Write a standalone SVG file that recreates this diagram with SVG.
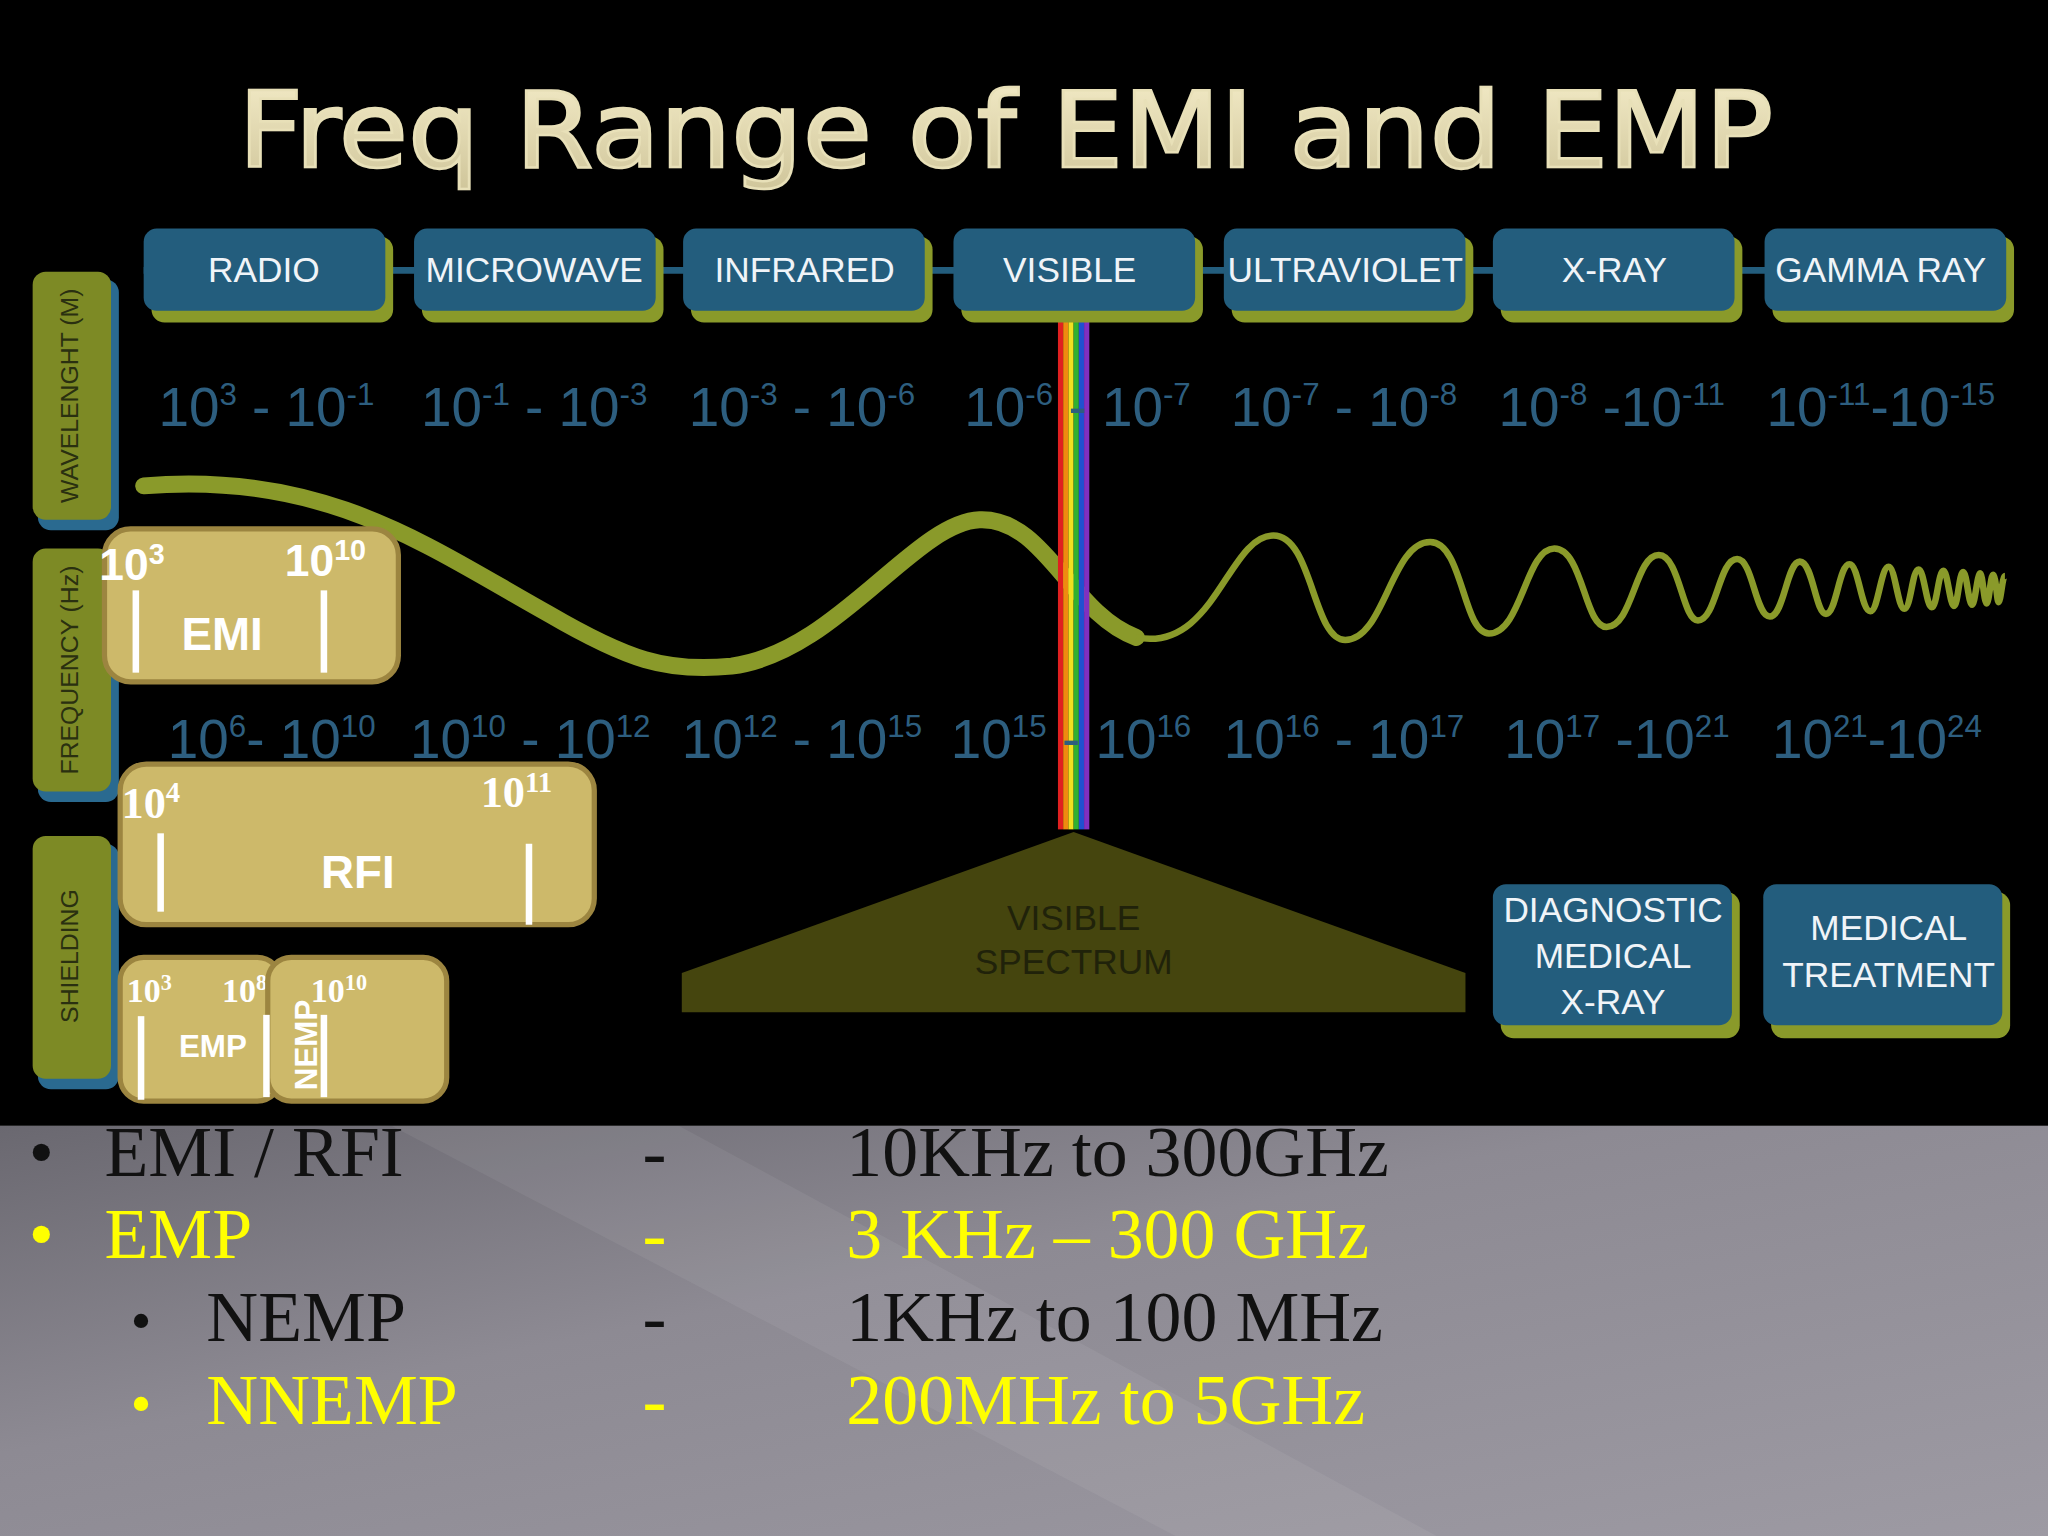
<svg xmlns="http://www.w3.org/2000/svg" width="2048" height="1536" viewBox="0 0 2048 1536">
<defs>
<linearGradient id="bg" x1="0" y1="0" x2="1" y2="1"><stop offset="0" stop-color="#6a6870"/><stop offset="0.4" stop-color="#8d8a93"/><stop offset="1" stop-color="#9d9aa3"/></linearGradient>
<linearGradient id="tt" x1="0" y1="0" x2="0" y2="1"><stop offset="0" stop-color="#f4ecc8"/><stop offset="1" stop-color="#cfc59a"/></linearGradient>
<style>
.bb{fill:#235d7d}.bs{fill:#8a9a2a}
.bt{font-family:"Liberation Sans",Arial,sans-serif;font-size:27px;fill:#f0f4f8;text-anchor:middle}
.num{font-family:"Liberation Sans",Arial,sans-serif;font-size:42px;fill:#2d5e7f;text-anchor:middle}
.tab{fill:#7d8a25}.tabs{fill:#2a6a90}
.tabt{font-family:"Liberation Sans",Arial,sans-serif;font-size:19px;fill:#2a3010;text-anchor:middle}
.tan{fill:#cdb96a;stroke:#9c8540;stroke-width:4}
.wt{font-family:"Liberation Sans",Arial,sans-serif;font-weight:bold;fill:#fff}
.ws{font-family:"Liberation Serif","Times New Roman",serif;font-weight:bold;fill:#fff}
.tk{stroke:#fff;stroke-width:5}
.bl{font-family:"Liberation Serif","Times New Roman",serif;font-size:55px}
</style>
</defs>
<g transform="scale(1.306122)">
<rect x="0" y="0" width="1568" height="862" fill="#000"/>
<rect x="0" y="862" width="1568" height="314" fill="url(#bg)"/>
<polygon points="300,862 520,862 1100,1176 900,1176" fill="#fff" opacity="0.06"/>
<text x="770" y="128" font-family="DejaVu Sans,Verdana,sans-serif" font-size="80" fill="url(#tt)" stroke="#e8e0b8" stroke-width="2" text-anchor="middle" textLength="1175" lengthAdjust="spacingAndGlyphs">Freq Range of EMI and EMP</text>

<g id="connectors">
<line x1="110" y1="207" x2="1536" y2="207" stroke="#235d7d" stroke-width="5"/>
<path d="M110,372 C250,360 330,420 420,470 C480,505 510,515 560,510 C640,500 700,400 750,398 C800,396 820,470 870,488" fill="none" stroke="#8a9a2a" stroke-width="13" stroke-linecap="round"/>
<path d="M870,488 C930,500 940,410 975,410 C1005,410 1005,490 1030,490 C1060,490 1065,415 1095,415 C1120,415 1120,485 1140,485 C1165,485 1168,420 1190,420 C1212,420 1213,480 1230,480 C1250,480 1252,425 1270,425 C1286,425 1288,475 1300,475 C1314,475 1316,428 1330,428 C1342,428 1344,472 1355,472 C1366,472 1368,430 1378,430 C1388,430 1390,470 1398,470 C1406,470 1408,432 1416,432 C1423,432 1425,468 1432,468 C1438,468 1440,434 1446,434 C1451,434 1453,466 1458,466 C1463,466 1464,436 1469,436 C1473,436 1475,465 1479,465 C1483,465 1484,437 1488,437 C1491,437 1493,464 1496,464 C1499,464 1500,438 1503,438 C1506,438 1507,463 1510,463 C1512,463 1514,439 1516,439 C1518,439 1519,462 1521,462 C1523,462 1524,440 1526,440 C1528,440 1529,461 1530,461 C1532,461 1533,441 1535,441" fill="none" stroke="#8a9a2a" stroke-width="5"/>
</g>

<g id="rainbow">
<rect x="810" y="240" width="4" height="395" fill="#e02020"/><rect x="814" y="240" width="4" height="395" fill="#f08a10"/><rect x="818" y="240" width="4" height="395" fill="#f0e020"/><rect x="822" y="240" width="4" height="395" fill="#30b030"/><rect x="826" y="240" width="4" height="395" fill="#2050d0"/><rect x="830" y="240" width="4" height="395" fill="#8030c0"/>
</g>

<g id="top-boxes">
<g id="radio"><rect class="bs" x="116" y="181" width="185" height="66" rx="10"/><rect class="bb" x="110" y="175" width="185" height="63" rx="10"/><text class="bt" x="202" y="216">RADIO</text></g>
<g id="microwave"><rect class="bs" x="323" y="181" width="185" height="66" rx="10"/><rect class="bb" x="317" y="175" width="185" height="63" rx="10"/><text class="bt" x="409" y="216">MICROWAVE</text></g>
<g id="infrared"><rect class="bs" x="529" y="181" width="185" height="66" rx="10"/><rect class="bb" x="523" y="175" width="185" height="63" rx="10"/><text class="bt" x="616" y="216">INFRARED</text></g>
<g id="visible"><rect class="bs" x="736" y="181" width="185" height="66" rx="10"/><rect class="bb" x="730" y="175" width="185" height="63" rx="10"/><text class="bt" x="819" y="216">VISIBLE</text></g>
<g id="ultraviolet"><rect class="bs" x="943" y="181" width="185" height="66" rx="10"/><rect class="bb" x="937" y="175" width="185" height="63" rx="10"/><text class="bt" x="1030" y="216">ULTRAVIOLET</text></g>
<g id="xray"><rect class="bs" x="1149" y="181" width="185" height="66" rx="10"/><rect class="bb" x="1143" y="175" width="185" height="63" rx="10"/><text class="bt" x="1236" y="216">X-RAY</text></g>
<g id="gamma"><rect class="bs" x="1357" y="181" width="185" height="66" rx="10"/><rect class="bb" x="1351" y="175" width="185" height="63" rx="10"/><text class="bt" x="1440" y="216">GAMMA RAY</text></g>
</g>

<g id="wavelengths">
<text class="num" x="204" y="326">10<tspan font-size="24" dy="-16">3</tspan><tspan dy="16"> - 10</tspan><tspan font-size="24" dy="-16">-1</tspan></text>
<text class="num" x="409" y="326">10<tspan font-size="24" dy="-16">-1</tspan><tspan dy="16"> - 10</tspan><tspan font-size="24" dy="-16">-3</tspan></text>
<text class="num" x="614" y="326">10<tspan font-size="24" dy="-16">-3</tspan><tspan dy="16"> - 10</tspan><tspan font-size="24" dy="-16">-6</tspan></text>
<text class="num" x="825" y="326">10<tspan font-size="24" dy="-16">-6</tspan><tspan dy="16"> - 10</tspan><tspan font-size="24" dy="-16">-7</tspan></text>
<text class="num" x="1029" y="326">10<tspan font-size="24" dy="-16">-7</tspan><tspan dy="16"> - 10</tspan><tspan font-size="24" dy="-16">-8</tspan></text>
<text class="num" x="1234" y="326">10<tspan font-size="24" dy="-16">-8</tspan><tspan dy="16"> -10</tspan><tspan font-size="24" dy="-16">-11</tspan></text>
<text class="num" x="1440" y="326">10<tspan font-size="24" dy="-16">-11</tspan><tspan dy="16">-10</tspan><tspan font-size="24" dy="-16">-15</tspan></text>
</g>
<g id="frequencies">
<text class="num" x="208" y="580">10<tspan font-size="24" dy="-16">6</tspan><tspan dy="16">- 10</tspan><tspan font-size="24" dy="-16">10</tspan></text>
<text class="num" x="406" y="580">10<tspan font-size="24" dy="-16">10</tspan><tspan dy="16"> - 10</tspan><tspan font-size="24" dy="-16">12</tspan></text>
<text class="num" x="614" y="580">10<tspan font-size="24" dy="-16">12</tspan><tspan dy="16"> - 10</tspan><tspan font-size="24" dy="-16">15</tspan></text>
<text class="num" x="820" y="580">10<tspan font-size="24" dy="-16">15</tspan><tspan dy="16"> - 10</tspan><tspan font-size="24" dy="-16">16</tspan></text>
<text class="num" x="1029" y="580">10<tspan font-size="24" dy="-16">16</tspan><tspan dy="16"> - 10</tspan><tspan font-size="24" dy="-16">17</tspan></text>
<text class="num" x="1238" y="580">10<tspan font-size="24" dy="-16">17</tspan><tspan dy="16"> -10</tspan><tspan font-size="24" dy="-16">21</tspan></text>
<text class="num" x="1437" y="580">10<tspan font-size="24" dy="-16">21</tspan><tspan dy="16">-10</tspan><tspan font-size="24" dy="-16">24</tspan></text>
</g>

<g id="tabs">
<g id="tab-wavelength"><rect class="tabs" x="29" y="214" width="62" height="192" rx="10"/><rect class="tab" x="25" y="208" width="60" height="190" rx="10"/><text class="tabt" transform="translate(60,303) rotate(-90)">WAVELENGHT (M)</text></g>
<g id="tab-frequency"><rect class="tabs" x="29" y="426" width="62" height="188" rx="10"/><rect class="tab" x="25" y="420" width="60" height="186" rx="10"/><text class="tabt" transform="translate(60,513) rotate(-90)">FREQUENCY (Hz)</text></g>
<g id="tab-shielding"><rect class="tabs" x="29" y="646" width="62" height="188" rx="10"/><rect class="tab" x="25" y="640" width="60" height="186" rx="10"/><text class="tabt" transform="translate(60,732) rotate(-90)">SHIELDING</text></g>
</g>

<g id="visible-spectrum">
<polygon points="522,745 822,637 1122,745 1122,775 522,775" fill="#45450e"/>
<text x="822" y="712" font-family="Liberation Sans,Arial,sans-serif" font-size="27" fill="#20220a" text-anchor="middle">VISIBLE</text>
<text x="822" y="746" font-family="Liberation Sans,Arial,sans-serif" font-size="27" fill="#20220a" text-anchor="middle">SPECTRUM</text>
</g>

<g id="diagnostic"><rect class="bs" x="1149" y="683" width="183" height="112" rx="10"/><rect class="bb" x="1143" y="677" width="183" height="108" rx="10"/><text class="bt" x="1235" y="706">DIAGNOSTIC</text><text class="bt" x="1235" y="741">MEDICAL</text><text class="bt" x="1235" y="776">X-RAY</text></g>
<g id="treatment"><rect class="bs" x="1356" y="683" width="183" height="112" rx="10"/><rect class="bb" x="1350" y="677" width="183" height="108" rx="10"/><text class="bt" x="1446" y="720">MEDICAL</text><text class="bt" x="1446" y="756">TREATMENT</text></g>

<g id="emi"><rect class="tan" x="80" y="405" width="225" height="117" rx="20"/>
<text class="wt" x="76" y="444" font-size="34">10<tspan font-size="22" dy="-12">3</tspan></text>
<text class="wt" x="218" y="441" font-size="34">10<tspan font-size="22" dy="-12">10</tspan></text>
<line class="tk" x1="104" y1="452" x2="104" y2="515"/><line class="tk" x1="248" y1="452" x2="248" y2="515"/>
<text class="wt" x="170" y="498" font-size="35" text-anchor="middle">EMI</text></g>

<g id="rfi"><rect class="tan" x="92" y="585" width="363" height="123" rx="20"/>
<text class="ws" x="93" y="626" font-size="34">10<tspan font-size="22" dy="-12">4</tspan></text>
<text class="ws" x="368" y="618" font-size="34">10<tspan font-size="22" dy="-12">11</tspan></text>
<line class="tk" x1="123" y1="638" x2="123" y2="698"/><line class="tk" x1="405" y1="646" x2="405" y2="708"/>
<text class="wt" x="274" y="680" font-size="35" text-anchor="middle">RFI</text></g>

<g id="emp"><rect class="tan" x="92" y="733" width="123" height="110" rx="18"/>
<text class="ws" x="97" y="767" font-size="26">10<tspan font-size="17" dy="-9">3</tspan></text>
<text class="ws" x="170" y="767" font-size="26">10<tspan font-size="17" dy="-9">8</tspan></text>
<line class="tk" x1="108" y1="778" x2="108" y2="842"/>
<text class="wt" x="163" y="809" font-size="24" text-anchor="middle">EMP</text></g>
<g id="nemp"><rect class="tan" x="205" y="733" width="137" height="110" rx="18"/>
<text class="ws" x="238" y="767" font-size="26">10<tspan font-size="17" dy="-9">10</tspan></text>
<line class="tk" x1="204" y1="777" x2="204" y2="840"/><line class="tk" x1="248" y1="777" x2="248" y2="840"/>
<text class="wt" transform="translate(243,800) rotate(-90)" font-size="24" text-anchor="middle">NEMP</text></g>

<g id="bullets" class="bl">
<text x="22" y="900" fill="#111">•</text><text x="80" y="900" fill="#111">EMI / RFI</text><text x="492" y="900" fill="#111">-</text><text x="648" y="900" fill="#111">10KHz to 300GHz</text>
<text x="22" y="963" fill="#ffff00">•</text><text x="80" y="963" fill="#ffff00">EMP</text><text x="492" y="963" fill="#ffff00">-</text><text x="648" y="963" fill="#ffff00">3 KHz – 300 GHz</text>
<text x="100" y="1027" fill="#111" font-size="46">•</text><text x="158" y="1027" fill="#111">NEMP</text><text x="492" y="1027" fill="#111">-</text><text x="648" y="1027" fill="#111">1KHz to 100 MHz</text>
<text x="100" y="1090" fill="#ffff00" font-size="46">•</text><text x="158" y="1090" fill="#ffff00">NNEMP</text><text x="492" y="1090" fill="#ffff00">-</text><text x="648" y="1090" fill="#ffff00">200MHz to 5GHz</text>
</g>
</g>
</svg>
